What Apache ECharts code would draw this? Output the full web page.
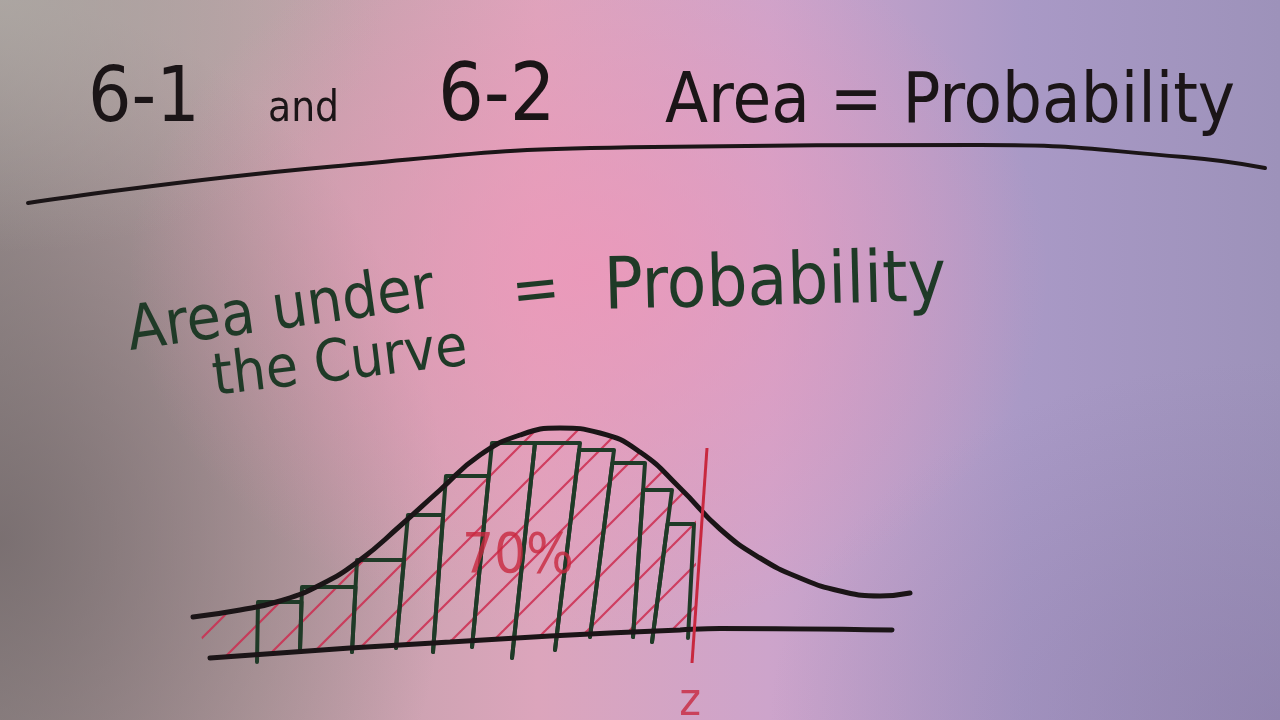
<!DOCTYPE html>
<html>
<head>
<meta charset="utf-8">
<script src="https://cdn.jsdelivr.net/npm/echarts@6/dist/echarts.min.js"></script>
<style>
html, body { margin: 0; padding: 0; width: 1280px; height: 720px; overflow: hidden; }
body {
  background:
    radial-gradient(ellipse 36% 50% at 46% 38%, rgba(240,150,185,0.75) 0%, rgba(240,150,185,0) 100%),
    radial-gradient(ellipse 30% 35% at 0% 0%, rgba(175,170,165,0.8) 0%, rgba(175,170,165,0) 100%),
    radial-gradient(ellipse 35% 75% at 0% 75%, rgba(110,100,102,0.75) 0%, rgba(110,100,102,0) 100%),
    radial-gradient(ellipse 40% 50% at 100% 100%, rgba(130,115,160,0.45) 0%, rgba(130,115,160,0) 100%),
    linear-gradient(90deg, #9f9393 0%, #bca1a6 20%, #dca5bc 42%, #cda4cb 60%, #a999c6 80%, #9d92ba 100%);
}
#chart { width: 1280px; height: 720px; }
</style>
</head>
<body>
<div id="chart"></div>
<script>
// ---- text ----
const titleParts = ['6-1', 'and', '6-2', 'Area = Probability'];
const noteParts = ['Area under', 'the Curve', '=', 'Probability'];
const percentLabel = '70%';
const zLabel = 'z';

// ---- bell curve (x in z-units, y in density-like units) ----
const curveX = [-3.57, -3.10, -2.70, -2.30, -1.90, -1.50, -1.10, -0.70, -0.30, 0.10, 0.50, 0.90, 1.30, 1.70, 2.10, 2.50, 2.90, 3.30, 3.60];
const curveY = [0.086, 0.100, 0.118, 0.150, 0.200, 0.268, 0.340, 0.410, 0.450, 0.464, 0.454, 0.416, 0.344, 0.262, 0.204, 0.164, 0.138, 0.128, 0.134];

// ---- hand-drawn baseline ----
const baseX = [-3.40, -2.00, -1.00, 0.00, 1.30, 1.70, 3.42];
const baseY = [0.004, 0.024, 0.036, 0.048, 0.060, 0.063, 0.060];

// ---- histogram bars (edges drawn slightly slanted) ----
const edgeTopX    = [-2.92, -2.48, -1.93, -1.42, -1.04, -0.58, -0.15, 0.30, 0.64, 0.95, 1.22, 1.44];
const edgeBottomX = [-2.93, -2.50, -1.98, -1.54, -1.17, -0.78, -0.38, 0.05, 0.40, 0.83, 1.02, 1.38];
const edgeBottomY = [-0.004, 0.020, 0.016, 0.024, 0.016, 0.026, 0.004, 0.020, 0.046, 0.046, 0.036, 0.044];
const binTops     = [0.116, 0.146, 0.200, 0.290, 0.368, 0.434, 0.434, 0.420, 0.394, 0.340, 0.272];

// ---- z cut-off: where the shaded area stops ----
const zValue = 1.46;
const zCurveY = 0.312;   // curve height at z
const zBaseY = 0.061;    // baseline height at z
const zLineX = [1.57, 1.42];
const zLineY = [0.424, -0.006];
const percentPos = [-0.32, 0.206];
const zLabelPos = [1.40, -0.086];

// ---- underline under the heading (page units) ----
const underlineX = [28, 327, 653, 980, 1184, 1265];
const underlineY = [203, 167, 147, 145, 157, 168];

const INK = '#1b1517';
const GREEN = '#1f3a27';
const RED = '#c8283f';
const HATCH = 'rgba(205,45,80,0.85)';
const HAND = "'Liberation Sans Narrow','DejaVu Sans Condensed','Roboto Condensed','Noto Sans',sans-serif";

function makeHatch() {
  const s = 42;
  const c = document.createElement('canvas');
  c.width = s; c.height = s;
  const g = c.getContext('2d');
  g.strokeStyle = HATCH;
  g.lineWidth = 2.2;
  g.lineCap = 'round';
  [-s, 0, s].forEach(function (k) {
    g.beginPath();
    g.moveTo(k, s);
    g.lineTo(k + s, 0);
    g.stroke();
  });
  return c;
}
const hatchPattern = { image: makeHatch(), repeat: 'repeat' };

function edgeTopY(i) {
  const a = i > 0 ? binTops[i - 1] : -Infinity;
  const b = i < binTops.length ? binTops[i] : -Infinity;
  return Math.max(a, b);
}
function edgeXAt(i, y) {
  const ty = edgeTopY(i);
  return edgeBottomX[i] + (edgeTopX[i] - edgeBottomX[i]) * (y - edgeBottomY[i]) / (ty - edgeBottomY[i]);
}

const zip = (xs, ys) => xs.map((x, i) => [x, ys[i]]);

const chart = echarts.init(document.getElementById('chart'), null, { renderer: 'canvas' });

const option = {
  backgroundColor: 'transparent',
  animation: false,
  grid: [
    { left: 150, right: 330, top: 410, bottom: 10 },
    { left: 0, right: 0, top: 0, bottom: 0 }
  ],
  xAxis: [
    { type: 'value', gridIndex: 0, min: -4, max: 4, show: false },
    { type: 'value', gridIndex: 1, min: 0, max: 1280, show: false }
  ],
  yAxis: [
    { type: 'value', gridIndex: 0, min: -0.1, max: 0.5, show: false },
    { type: 'value', gridIndex: 1, min: 0, max: 720, inverse: true, show: false }
  ],
  graphic: [
    { type: 'text', x: 88, y: 101, style: { text: titleParts[0], font: '76px ' + HAND, fill: INK, verticalAlign: 'middle' } },
    { type: 'text', x: 268, y: 110, style: { text: titleParts[1], font: '42px ' + HAND, fill: INK, verticalAlign: 'middle' } },
    { type: 'text', x: 438, y: 99, style: { text: titleParts[2], font: '80px ' + HAND, fill: INK, verticalAlign: 'middle' } },
    { type: 'text', x: 665, y: 104, style: { text: titleParts[3], font: '70px ' + HAND, fill: INK, verticalAlign: 'middle' } },
    { type: 'text', x: 128, y: 334, rotation: 0.14, style: { text: noteParts[0], font: '62px ' + HAND, fill: GREEN, verticalAlign: 'middle' } },
    { type: 'text', x: 213, y: 380, rotation: 0.12, style: { text: noteParts[1], font: '58px ' + HAND, fill: GREEN, verticalAlign: 'middle' } },
    { type: 'text', x: 512, y: 296, rotation: 0.1, style: { text: noteParts[2], font: '64px ' + HAND, fill: GREEN, verticalAlign: 'middle' } },
    { type: 'text', x: 604, y: 290, rotation: 0.025, style: { text: noteParts[3], font: '72px ' + HAND, fill: GREEN, verticalAlign: 'middle' } }
  ],
  series: [
    {
      name: 'area',
      type: 'custom',
      xAxisIndex: 0, yAxisIndex: 0,
      data: [[0, 0]],
      silent: true,
      z: 1,
      renderItem: function (params, api) {
        const pts = [];
        for (let i = 0; i < curveX.length; i++) {
          if (curveX[i] < zValue) pts.push(api.coord([curveX[i], curveY[i]]));
        }
        pts.push(api.coord([zValue, zCurveY]));
        pts.push(api.coord([zValue, zBaseY]));
        for (let i = baseX.length - 1; i >= 0; i--) {
          if (baseX[i] < zValue) pts.push(api.coord([baseX[i], baseY[i]]));
        }
        return { type: 'polygon', shape: { points: pts }, style: { fill: hatchPattern, stroke: null } };
      }
    },
    {
      name: 'bins',
      type: 'custom',
      xAxisIndex: 0, yAxisIndex: 0,
      data: binTops.map((t, i) => [(edgeTopX[i] + edgeTopX[i + 1]) / 2, t]),
      silent: true,
      z: 2,
      renderItem: function (params, api) {
        const i = params.dataIndex;
        const t = binTops[i];
        const pts = [
          [edgeBottomX[i], edgeBottomY[i]],
          [edgeXAt(i, t), t],
          [edgeXAt(i + 1, t), t],
          [edgeBottomX[i + 1], edgeBottomY[i + 1]]
        ].map(p => api.coord(p));
        return { type: 'polyline', shape: { points: pts }, style: { stroke: GREEN, lineWidth: 4, fill: 'none', lineJoin: 'round', lineCap: 'round' } };
      }
    },
    {
      name: 'baseline',
      type: 'line',
      xAxisIndex: 0, yAxisIndex: 0,
      data: zip(baseX, baseY),
      smooth: 0.4,
      showSymbol: false,
      silent: true,
      z: 3,
      lineStyle: { color: INK, width: 5, cap: 'round' }
    },
    {
      name: 'curve',
      type: 'line',
      xAxisIndex: 0, yAxisIndex: 0,
      data: zip(curveX, curveY),
      smooth: 0.5,
      showSymbol: false,
      silent: true,
      z: 4,
      lineStyle: { color: INK, width: 5, cap: 'round' }
    },
    {
      name: 'z',
      type: 'line',
      xAxisIndex: 0, yAxisIndex: 0,
      data: zip(zLineX, zLineY),
      showSymbol: false,
      silent: true,
      z: 5,
      lineStyle: { color: RED, width: 3 }
    },
    {
      name: 'labels',
      type: 'scatter',
      xAxisIndex: 0, yAxisIndex: 0,
      symbolSize: 0,
      silent: true,
      z: 6,
      data: [
        { value: percentPos, label: { show: true, position: 'inside', formatter: percentLabel, color: RED, fontSize: 56, fontFamily: HAND } },
        { value: zLabelPos, label: { show: true, position: 'inside', formatter: zLabel, color: RED, fontSize: 46, fontFamily: HAND } }
      ]
    },
    {
      name: 'underline',
      type: 'line',
      xAxisIndex: 1, yAxisIndex: 1,
      data: zip(underlineX, underlineY),
      smooth: 0.5,
      showSymbol: false,
      silent: true,
      lineStyle: { color: INK, width: 4, cap: 'round' }
    }
  ]
};

chart.setOption(option);
</script>
</body>
</html>
